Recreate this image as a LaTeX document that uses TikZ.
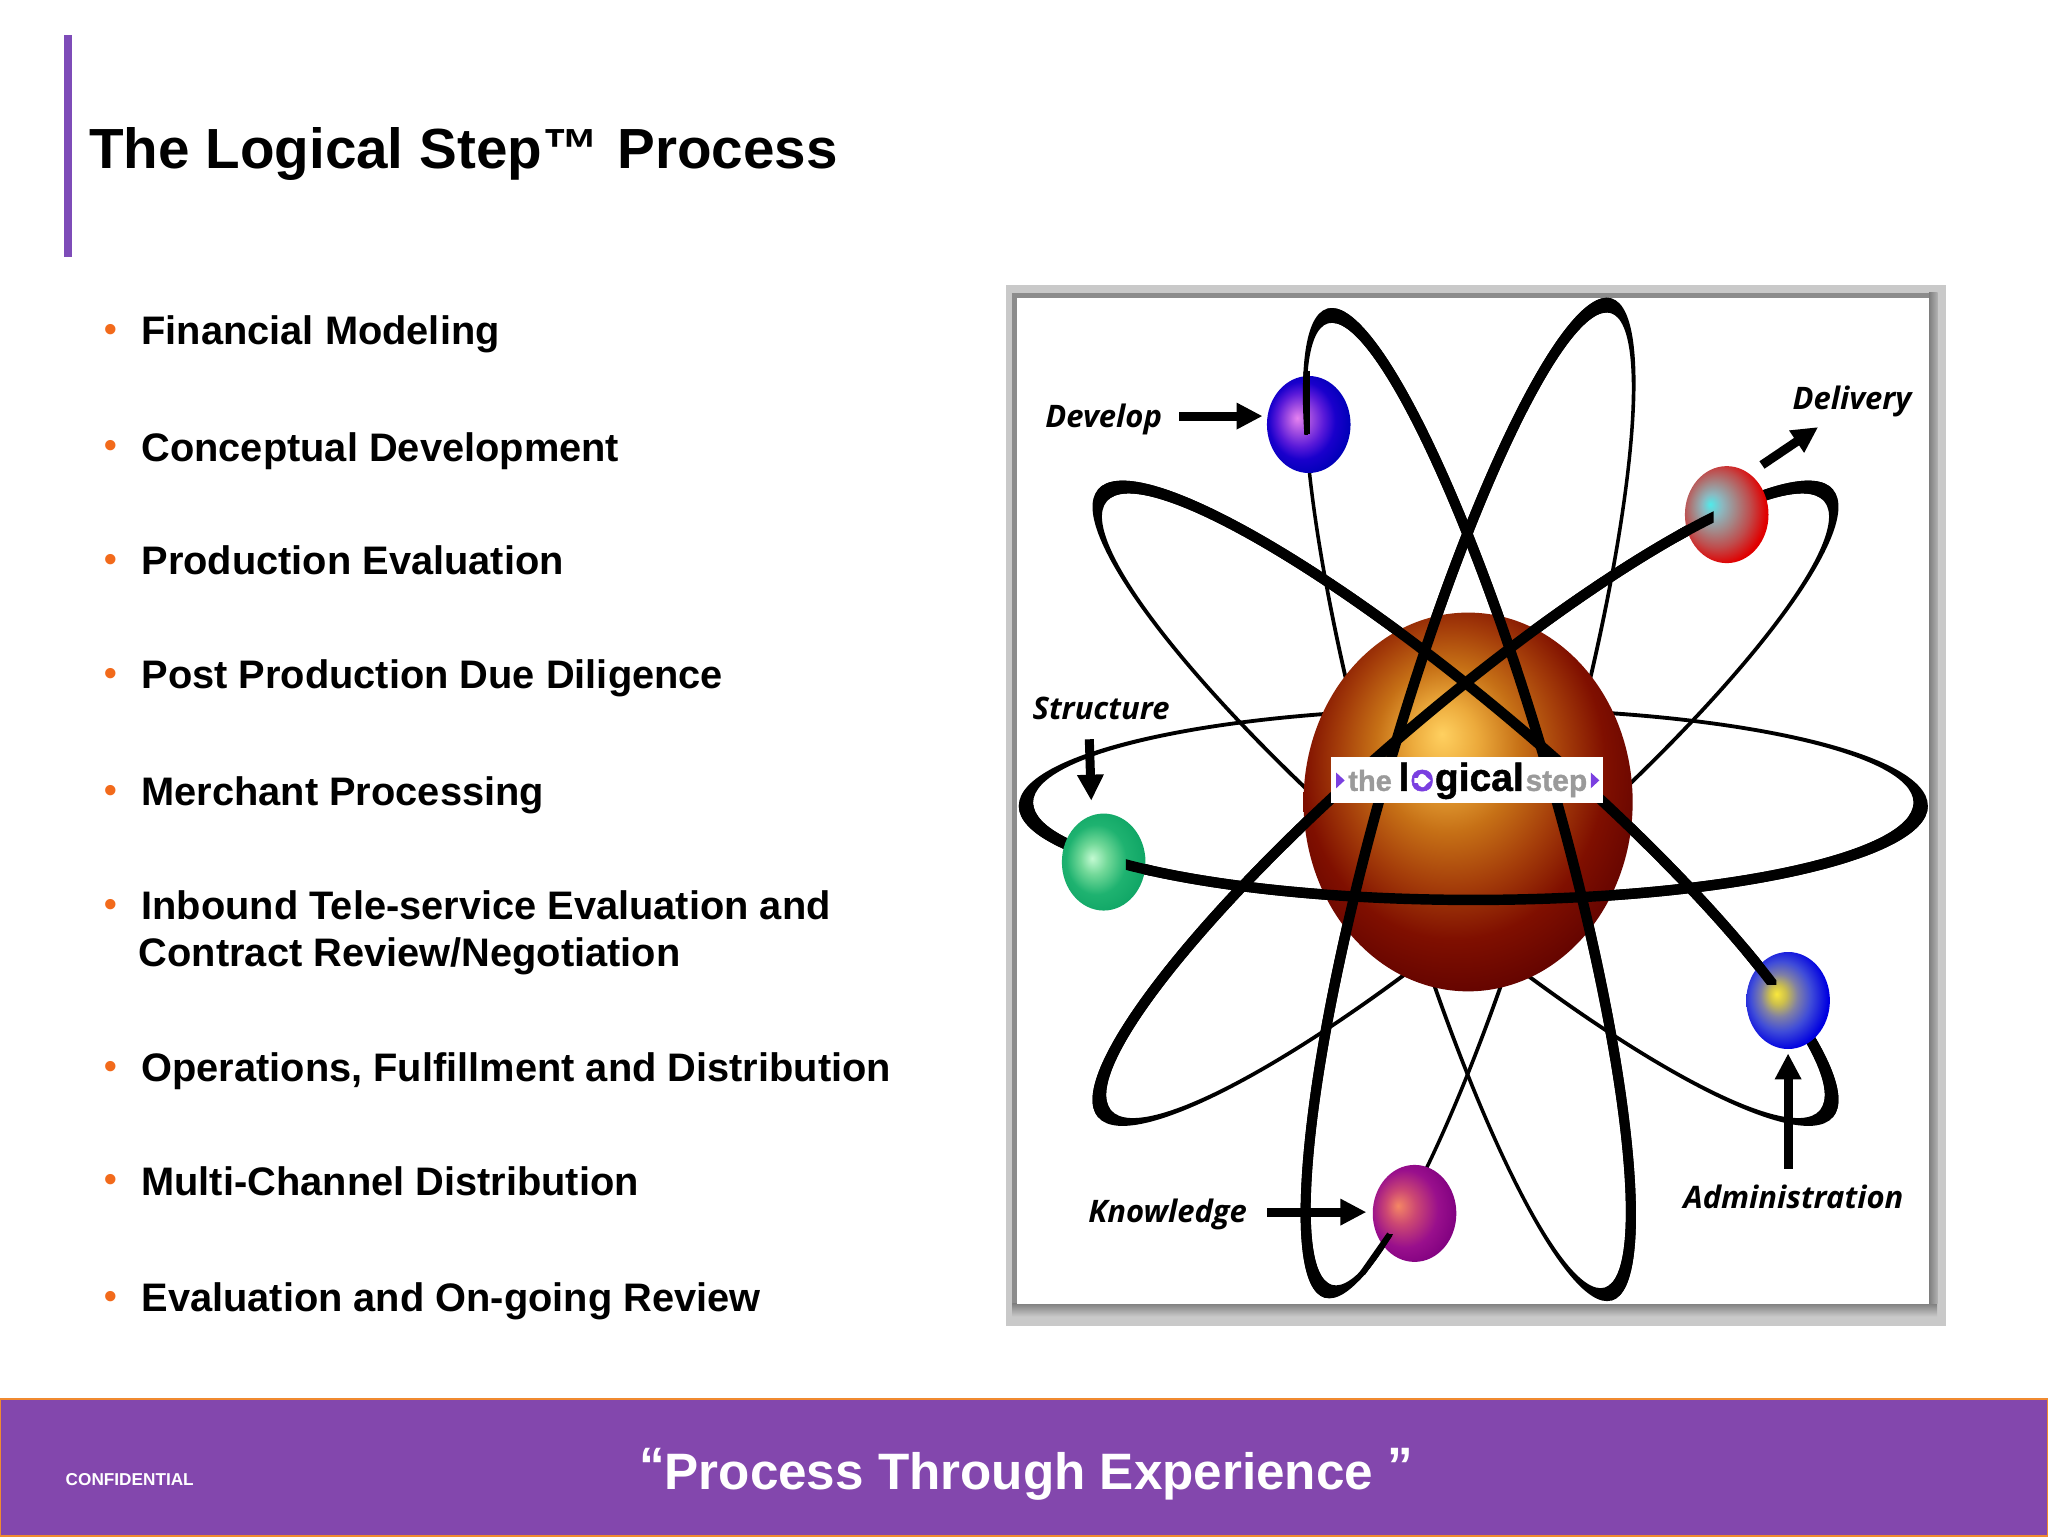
\documentclass[tikz,border=0pt]{standalone}
\usepackage{fontspec}
\setmainfont{Liberation Sans}
\newfontfamily\labfont{Open Sans}
\newfontfamily\logoheavy{Liberation Sans Bold}[FakeBold=1.2]
\usetikzlibrary{arrows.meta,shapes.geometric}
\definecolor{barpurple}{HTML}{7E4CB8}
\definecolor{bandpurple}{HTML}{8347AD}
\definecolor{bandedge}{HTML}{F08A30}
\definecolor{bulletorange}{HTML}{F26A1B}
\definecolor{logopurple}{HTML}{7A3FE0}
\definecolor{logogrey}{HTML}{9A9A9A}
\pgfdeclareradialshading{nucshade}{\pgfpoint{-4bp}{9bp}}{rgb(0bp)=(1,.816,.376);rgb(5bp)=(.925,.667,.235);rgb(11bp)=(.776,.439,.086);rgb(17bp)=(.647,.243,.039);rgb(23bp)=(.5,.06,0);rgb(30bp)=(.38,.01,0);rgb(50bp)=(.33,0,0)}
\pgfdeclareradialshading{devshade}{\pgfpoint{-7bp}{3.4bp}}{rgb(0bp)=(.9,.51,.94);rgb(7bp)=(.63,.3,.88);rgb(14bp)=(.35,.1,.85);rgb(20bp)=(.1,0,.8);rgb(28bp)=(0,0,.72);rgb(50bp)=(0,0,.72)}
\pgfdeclareradialshading{delshade}{\pgfpoint{-10bp}{5.4bp}}{rgb(0bp)=(.314,.92,.92);rgb(6bp)=(.55,.72,.75);rgb(13bp)=(.65,.52,.52);rgb(20bp)=(.75,.3,.3);rgb(28bp)=(.88,0,0);rgb(50bp)=(.88,0,0)}
\pgfdeclareradialshading{strshade}{\pgfpoint{-7bp}{2bp}}{rgb(0bp)=(.765,.98,.824);rgb(8bp)=(.45,.85,.6);rgb(18bp)=(.12,.7,.44);rgb(30bp)=(.05,.64,.39);rgb(50bp)=(.05,.64,.39)}
\pgfdeclareradialshading{admshade}{\pgfpoint{-7bp}{3.4bp}}{rgb(0bp)=(.98,.91,.235);rgb(5bp)=(.8,.75,.3);rgb(11bp)=(.5,.5,.65);rgb(18bp)=(.25,.3,.85);rgb(27bp)=(0,0,.88);rgb(50bp)=(0,0,.88)}
\pgfdeclareradialshading{knoshade}{\pgfpoint{-10bp}{4bp}}{rgb(0bp)=(.96,.53,.392);rgb(9bp)=(.8,.28,.45);rgb(20bp)=(.6,.06,.55);rgb(30bp)=(.5,0,.5);rgb(50bp)=(.5,0,.5)}
\tikzset{
  bodytext/.style={anchor=base west,inner sep=0pt,font=\fontsize{19.9}{23}\selectfont\bfseries},
  bulletmark/.style={anchor=center,inner sep=0pt,text=bulletorange,font=\fontsize{18}{19}\selectfont\bfseries},
  atomlabel/.style={inner sep=0pt,font=\labfont\fontsize{15.5}{18}\selectfont\bfseries\itshape},
  ballnode/.style={ellipse,inner sep=0pt,minimum width=41.8pt,minimum height=48.5pt},
  callout/.style={line width=4.5pt,-{Triangle[length=13pt,width=12.5pt]}},
  logopart/.style={anchor=base west,inner sep=0pt},
  strandend/.style={line width=3pt},
}
% cx, cy, a, b, angle, front side
\newcommand{\orbitfill}[6]{%
  \fill[black,even odd rule,shift={(#1,#2)},rotate=#5]
    (0,0) ellipse [x radius=#3,y radius=#4]
    (0,-2.5*#6) ellipse [x radius=#3-11,y radius=#4-5.5];}
\newcommand{\orbitfront}[6]{%
  \begin{scope}
  \begin{scope}[shift={(#1,#2)},rotate=#5]
    \clip (-#3-30,0) rectangle (#3+30,#6*#4+#6*30);
    \fill[black,even odd rule]
      (0,0) ellipse [x radius=#3,y radius=#4]
      (0,-2.5*#6) ellipse [x radius=#3-11,y radius=#4-5.5];
  \end{scope}
  \end{scope}}
\newcommand{\orbitpatch}[8]{%
  \begin{scope}
    \clip #7 rectangle #8;
    \orbitfill{#1}{#2}{#3}{#4}{#5}{#6}
  \end{scope}}
\begin{document}
\begin{tikzpicture}[x=0.65306pt,y=-0.65306pt]
\useasboundingbox (0,0) rectangle (1568,1176);
\fill[white] (0,0) rectangle (1568,1176);
% title bar and title
\fill[barpurple] (49,27) rectangle (55.5,197);
\node[anchor=base west,inner sep=0pt,font=\fontsize{28.3}{33}\selectfont\bfseries] (title) at (68,129) {The Logical Step™\hspace{1.5pt} Process};
% bullets
\foreach \nm/\yy/\txt in {a/264/Financial Modeling,b/353/Conceptual Development,c/440/Production Evaluation,d/527/Post Production Due Diligence,e/617/Merchant Processing,f/704/Inbound Tele-service Evaluation and,g/828/{Operations, Fulfillment and Distribution},h/915/Multi-Channel Distribution,i/1004/Evaluation and On-going Review}{
  \node[bodytext] (item\nm) at (108,\yy) {\txt};
  \node[bulletmark] (bul\nm) at (85,\yy-9) {•};
}
\node[bodytext] (itemf2) at (106,740) {Contract Review/Negotiation};
% frame
\fill[black!21] (770.5,218) rectangle (1489.5,1015);
\fill[black!45] (775,224) rectangle (1483,998);
\shade[top color=black!50,bottom color=black!21] (775,998) rectangle (1483,1008);
\shade[left color=black!50,right color=black!30] (1477,224) rectangle (1483.5,998);
\fill[white] (779,228) rectangle (1477,998.5);
% orbits, back
\orbitfill{1128}{617}{348}{76}{0}{1}
\orbitfill{1125}{616}{395}{69}{-74}{-1}
\orbitfill{1124}{611}{398}{69}{74}{-1}
\orbitfill{1122}{615}{370}{75}{-40.5}{-1}
\orbitfill{1122}{615}{370}{75}{40.5}{-1}
% nucleus
\path[shading=nucshade] (1124,614) ellipse [x radius=126,y radius=145];
% orbits, front
\orbitfront{1128}{617}{348}{76}{0}{1}
\orbitfront{1125}{616}{395}{69}{-74}{-1}
\orbitfront{1124}{611}{398}{69}{74}{-1}
\orbitfront{1122}{615}{370}{75}{-40.5}{-1}
\orbitfront{1122}{615}{370}{75}{40.5}{-1}
% balls
\node[ballnode,shading=devshade] (develop) at (1002,325) {};
\node[ballnode,shading=delshade] (delivery) at (1322,394) {};
\node[ballnode,shading=strshade] (structure) at (845,660) {};
\node[ballnode,shading=admshade] (administration) at (1369,766) {};
\node[ballnode,shading=knoshade] (knowledge) at (1083,929) {};
% orbit ends lying over the balls
\orbitpatch{1125}{616}{395}{69}{-74}{-1}{(985,285)}{(1020,333)}
\orbitpatch{1122}{615}{370}{75}{40.5}{-1}{(1285,388)}{(1312,425)}
\orbitpatch{1128}{617}{348}{76}{0}{1}{(862,650)}{(882,695)}
\orbitpatch{1122}{615}{370}{75}{-40.5}{-1}{(1335,725)}{(1360,754)}
\orbitpatch{1124}{611}{398}{69}{74}{-1}{(1040,945)}{(1072,990)}
\draw[strandend] (1000.5,284) -- (1000.5,332);
\draw[strandend] (1043,975) -- (1064,945);
% logo
\node[fill=white,inner sep=0pt,minimum width=136pt,minimum height=23pt] (logobox) at (1123.5,597.5) {};
\node[logopart,text=logogrey,font=\logoheavy\fontsize{14.5}{16}\selectfont] (lgthe) at (1032,605.5) {the};
\node[logopart,text=black,font=\logoheavy\fontsize{19.5}{21}\selectfont] (lgl) at ([xshift=3pt]lgthe.base east) {l};
\node[logopart,text=logopurple,font=\logoheavy\fontsize{19.5}{21}\selectfont] (lgo) at (lgl.base east) {o};
\node[logopart,text=black,font=\logoheavy\fontsize{19.5}{21}\selectfont] (lgical) at (lgo.base east) {gical};
\node[logopart,text=logogrey,font=\logoheavy\fontsize{15}{16}\selectfont] (lgstep) at ([xshift=0.5pt]lgical.base east) {step};
\fill[logopurple] (1023,591.5) -- (1029.5,597.5) -- (1023,603.5) -- cycle;
\fill[logopurple] (1218,591.5) -- (1224.5,597.5) -- (1218,603.5) -- cycle;
\fill[white,shift={(lgo.center)}] (-6,-1.8) -- (0.5,-1.8) -- (0.5,-5) -- (6.5,0) -- (0.5,5) -- (0.5,1.8) -- (-6,1.8) -- cycle;
% labels and callouts
\node[atomlabel] (labdev) at (845,321) {Develop};
\node[atomlabel] (labdel) at (1418,307) {Delivery};
\node[atomlabel] (labstr) at (843,542) {Structure};
\node[atomlabel] (labadm) at (1373,916) {Administration};
\node[atomlabel] (labkno) at (894,930) {Knowledge};
\draw[callout,shorten <=8.5pt,shorten >=2pt] ([yshift=1.6pt]labdev.east) -- ([yshift=1.6pt]labdev.east -| develop.west);
\draw[callout,shorten <=10pt,shorten >=3pt] ([yshift=1.3pt]labkno.east) -- ([yshift=1.3pt]labkno.east -| knowledge.west);
\coordinate (delfrom) at (1349,356);
\coordinate (delto) at (1392,327);
\draw[callout] (delfrom) -- (delto);
\coordinate (strfrom) at (834,566);
\coordinate (strto) at (835.5,613);
\draw[callout] (strfrom) -- (strto);
\coordinate (admfrom) at (1369,895);
\draw[callout,shorten >=2pt] (admfrom) -- (administration.south);
% footer
\draw[fill=bandpurple,draw=bandedge,line width=0.8pt] (0,1071) rectangle (1568,1176);
\node[anchor=base west,inner sep=0pt,text=white,font=\fontsize{8.6}{10}\selectfont\bfseries] (conf) at (50,1137) {CONFIDENTIAL};
\node[anchor=base west,inner sep=0pt,text=white,font=\fontsize{25.6}{30}\selectfont\bfseries] (slogan) at (489,1140) {\raisebox{3pt}{“}Process Through Experience \raisebox{3pt}{”}};
\end{tikzpicture}
\end{document}
